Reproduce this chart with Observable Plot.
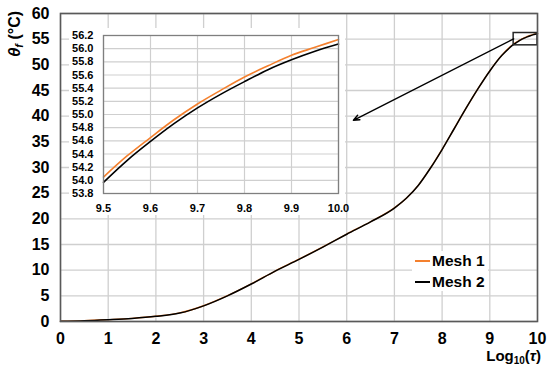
<!DOCTYPE html>
<html><head><meta charset="utf-8">
<script src="https://cdn.jsdelivr.net/npm/d3@7"></script>
<script src="https://cdn.jsdelivr.net/npm/@observablehq/plot@0.6"></script>
<style>
body{margin:0;background:#fff;}
#wrap{position:relative;width:550px;height:371px;font-family:"Liberation Sans",Arial,sans-serif;}
#inset{position:absolute;left:69px;top:28px;}
#legend{position:absolute;left:412px;top:251px;width:76px;height:40px;background:#fff;font-weight:bold;font-size:15.5px;color:#000;}
#legend .row{position:absolute;left:3px;height:20px;line-height:20px;white-space:nowrap;}
#legend .sw{display:inline-block;width:15px;height:2px;vertical-align:middle;margin-right:2px;position:relative;top:-1px;}
</style></head><body><div id="wrap"></div>
<script>
// Data
const tau   = [0,0.5,1,1.5,2,2.5,3,3.5,4,4.5,5,5.5,6,6.5,7,7.25,7.5,7.75,8,8.25,8.5,8.75,9,9.25,9.5,9.55,9.6,9.65,9.7,9.75,9.8,9.85,9.9,9.95,10];
const mesh1 = [0.05,0.15,0.36,0.61,1.02,1.67,3.07,5.03,7.33,9.83,12.13,14.53,17.03,19.43,22.13,24.03,26.53,29.83,33.53,37.53,41.53,45.33,48.84,51.84,54.05,54.37,54.65,54.92,55.16,55.37,55.57,55.74,55.90,56.02,56.14];
const mesh2 = [0.05,0.15,0.35,0.60,1.00,1.65,3.05,5.00,7.30,9.80,12.10,14.50,17.00,19.40,22.10,24.00,26.50,29.80,33.50,37.50,41.50,45.30,48.80,51.80,53.97,54.30,54.59,54.86,55.10,55.31,55.50,55.68,55.83,55.96,56.07];
const seriesNames  = ["Mesh 1","Mesh 2"];
const seriesColors = ["#f4802e","#000000"];
const xTicks = [0,1,2,3,4,5,6,7,8,9,10];
const yTicks = [0,5,10,15,20,25,30,35,40,45,50,55,60];
const insetXTicks = [9.5,9.6,9.7,9.8,9.9,10.0];
const insetYTicks = [53.8,54.0,54.2,54.4,54.6,54.8,55.0,55.2,55.4,55.6,55.8,56.0,56.2];
const arrowFrom = [9.5, 55.05];
const arrowTo   = [6.14, 39.2];

const rows = tau.map((t,i)=>({tau:t, m1:mesh1[i], m2:mesh2[i]}));
const insetRows = rows.filter(d=>d.tau>=9.5);
const insetX = [insetXTicks[0], insetXTicks[insetXTicks.length-1]];
const insetY = [insetYTicks[0], insetYTicks[insetYTicks.length-1]];
const font = '"Liberation Sans", Arial, sans-serif';
const grid = "#cfcfcf";

const main = Plot.plot({
  width:550, height:371, marginLeft:60, marginRight:13, marginTop:13, marginBottom:50,
  style:{fontFamily:font, fontSize:"16px", fontWeight:"bold", color:"#000", background:"#fff", overflow:"visible"},
  x:{domain:[0,10], ticks:xTicks, tickSize:0, tickPadding:11, label:null, tickFormat:d=>String(d)},
  y:{domain:[0,60], ticks:yTicks, tickSize:0, tickPadding:11, label:null},
  marks:[
    Plot.gridX(xTicks,{stroke:grid, strokeOpacity:1, strokeWidth:1.3}),
    Plot.gridY(yTicks,{stroke:grid, strokeOpacity:1, strokeWidth:1.3}),
    Plot.line(rows,{x:"tau", y:"m1", stroke:seriesColors[0], strokeWidth:1.4, curve:"monotone-x"}),
    Plot.line(rows,{x:"tau", y:"m2", stroke:seriesColors[1], strokeWidth:1.5, curve:"monotone-x"}),
    Plot.rect([{x1:insetX[0],x2:insetX[1],y1:insetY[0],y2:insetY[1]}],{x1:"x1",x2:"x2",y1:"y1",y2:"y2", fill:"none", stroke:"#262626", strokeWidth:1.5}),
    Plot.arrow([{x1:arrowFrom[0],y1:arrowFrom[1],x2:arrowTo[0],y2:arrowTo[1]}],{x1:"x1",y1:"y1",x2:"x2",y2:"y2", stroke:"#000", strokeWidth:1.4, headLength:7, headAngle:45}),
    Plot.frame({stroke:"#595959", strokeWidth:1.6})
  ]
});

const ms = d3.select(main);
// y-axis label
const yl = ms.append("text")
  .attr("transform","translate(20,34) rotate(-90)")
  .attr("text-anchor","middle")
  .style("font-size","16px").style("font-weight","bold").attr("fill","#000");
yl.append("tspan").style("font-style","italic").style("font-size","17px").text("θ");
yl.append("tspan").style("font-style","italic").style("font-size","11px").attr("dy","3").text("f");
yl.append("tspan").attr("dy","-3").text(" (°C)");
// x-axis label
const xl = ms.append("text")
  .attr("x",541).attr("y",361)
  .attr("text-anchor","end")
  .style("font-size","15px").style("font-weight","bold").attr("fill","#000");
xl.append("tspan").text("Log");
xl.append("tspan").style("font-size","10px").attr("dy","3").text("10");
xl.append("tspan").attr("dy","-3").text("(");
xl.append("tspan").style("font-style","italic").text("τ");
xl.append("tspan").text(")");

const inset = Plot.plot({
  width:276, height:187, marginLeft:34, marginRight:7, marginTop:7, marginBottom:22,
  style:{fontFamily:font, fontSize:"11px", fontWeight:"bold", color:"#000", background:"#fff", overflow:"visible"},
  x:{domain:insetX, ticks:insetXTicks, tickSize:0, tickPadding:11, label:null, tickFormat:d=>d.toFixed(1)},
  y:{domain:insetY, ticks:insetYTicks, tickSize:0, tickPadding:10, label:null, tickFormat:d=>d.toFixed(1)},
  marks:[
    Plot.gridX(insetXTicks,{stroke:grid, strokeOpacity:1, strokeWidth:1.2}),
    Plot.gridY(insetYTicks,{stroke:grid, strokeOpacity:1, strokeWidth:1.2}),
    Plot.line(insetRows,{x:"tau", y:"m1", stroke:seriesColors[0], strokeWidth:1.6, curve:"monotone-x"}),
    Plot.line(insetRows,{x:"tau", y:"m2", stroke:seriesColors[1], strokeWidth:1.6, curve:"monotone-x"}),
    Plot.frame({stroke:"#7f7f7f", strokeWidth:1.3})
  ]
});
inset.id = "inset";

const wrap = document.getElementById("wrap");
wrap.appendChild(main);
wrap.appendChild(inset);

const legend = document.createElement("div");
legend.id = "legend";
seriesNames.forEach((n,i)=>{
  const r = document.createElement("div");
  r.className = "row";
  r.style.top = (i*21) + "px";
  const sw = document.createElement("span");
  sw.className = "sw";
  sw.style.background = seriesColors[i];
  r.appendChild(sw);
  r.appendChild(document.createTextNode(n));
  legend.appendChild(r);
});
wrap.appendChild(legend);
</script></body></html>
